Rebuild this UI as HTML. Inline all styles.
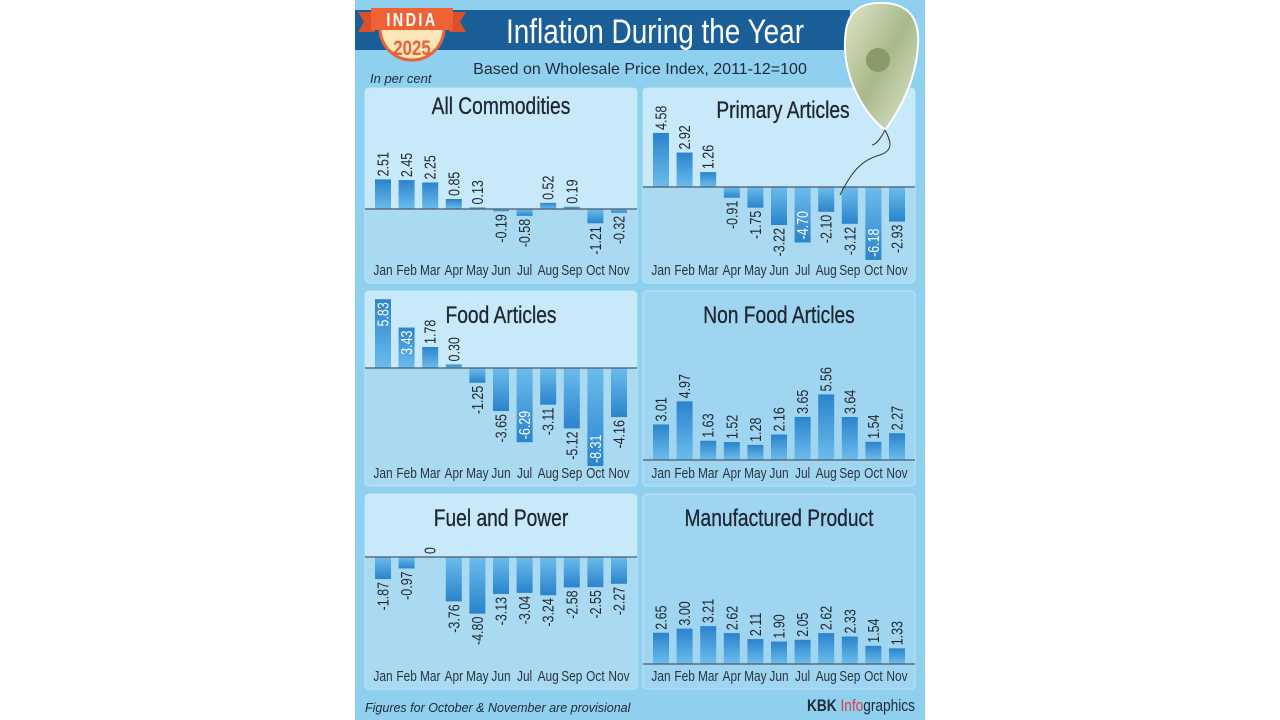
<!DOCTYPE html>
<html><head><meta charset="utf-8"><style>
body{margin:0;background:#fff;width:1280px;height:720px;overflow:hidden}
svg{display:block}
.t{font-family:"Liberation Sans Narrow","Liberation Sans",sans-serif}
</style></head><body>
<svg width="1280" height="720">
<defs>
<linearGradient id="gp" x1="0" y1="0" x2="0" y2="1"><stop offset="0" stop-color="#2a84cc"/><stop offset="1" stop-color="#6cbcec"/></linearGradient>
<linearGradient id="gn" x1="0" y1="0" x2="0" y2="1"><stop offset="0" stop-color="#6cbcec"/><stop offset="1" stop-color="#2a84cc"/></linearGradient>
<linearGradient id="bal" x1="0" y1="0" x2="1" y2="1"><stop offset="0" stop-color="#dfe6c8"/><stop offset="0.5" stop-color="#a9b98a"/><stop offset="1" stop-color="#e2e8d2"/></linearGradient>
</defs>
<rect x="355" y="0" width="570" height="720" fill="#8fd0ef"/>
<rect x="355" y="10" width="495" height="40" fill="#1b5f98"/>
<g>
<polygon points="358,12 375,12 375,32 358,32 364,22" fill="#d9502a"/>
<polygon points="466,12 449,12 449,32 466,32 460,22" fill="#d9502a"/>
<path d="M380,28 A32,32 0 0 0 444,28 Z" fill="#fbe6b8" stroke="#e8623a" stroke-width="3"/>
<rect x="371" y="8" width="82" height="22" fill="#ee6236"/>
<text x="412" y="26" text-anchor="middle" class="t cz" font-size="18" font-weight="bold" fill="#fff" letter-spacing="3">INDIA</text>
<text x="412" y="55" text-anchor="middle" class="t cz" font-size="21" font-weight="bold" fill="#e8623a">2025</text>
</g>
<text x="655" y="43" text-anchor="middle" class="t" font-size="34" fill="#fff" textLength="298" lengthAdjust="spacingAndGlyphs">Inflation During the Year</text>
<text x="640" y="74" text-anchor="middle" font-family="Liberation Sans,sans-serif" font-size="16" fill="#1e2a38">Based on Wholesale Price Index, 2011-12=100</text>
<text x="370" y="83" font-family="Liberation Sans,sans-serif" font-style="italic" font-size="13" fill="#1e2a38">In per cent</text>
<g id="charts"></g>
<g>
<path d="M885,130 C860,110 840,70 846,30 C850,5 870,2 885,3 C905,4 920,15 918,45 C916,80 900,110 885,130 Z" fill="url(#bal)" stroke="#fff" stroke-width="2"/>
<circle cx="878" cy="60" r="12" fill="#8a9b6a"/>
<path d="M885,130 C880,140 875,145 872,145 M885,130 C890,140 895,150 880,155 C860,160 850,175 840,195" fill="none" stroke="#333" stroke-width="1"/>
</g>
<text x="365" y="712" font-family="Liberation Sans,sans-serif" font-style="italic" font-size="12.5" fill="#1e2a38">Figures for October &amp; November are provisional</text>
<text x="915" y="711" text-anchor="end" class="t" font-size="17" fill="#1e2a38" textLength="108" lengthAdjust="spacingAndGlyphs"><tspan font-weight="bold">KBK </tspan><tspan fill="#e23a3a">Info</tspan>graphics</text>
</svg>
<script>
const months=["Jan","Feb","Mar","Apr","May","Jun","Jul","Aug","Sep","Oct","Nov"];
const titles=["All Commodities","Primary Articles","Food Articles","Non Food Articles","Fuel and Power","Manufactured Product"];
const allCommodities=[2.51,2.45,2.25,0.85,0.13,-0.19,-0.58,0.52,0.19,-1.21,-0.32];
const primaryArticles=[4.58,2.92,1.26,-0.91,-1.75,-3.22,-4.70,-2.10,-3.12,-6.18,-2.93];
const foodArticles=[5.83,3.43,1.78,0.30,-1.25,-3.65,-6.29,-3.11,-5.12,-8.31,-4.16];
const nonFoodArticles=[3.01,4.97,1.63,1.52,1.28,2.16,3.65,5.56,3.64,1.54,2.27];
const fuelPower=[-1.87,-0.97,0,-3.76,-4.80,-3.13,-3.04,-3.24,-2.58,-2.55,-2.27];
const manufactured=[2.65,3.00,3.21,2.62,2.11,1.90,2.05,2.62,2.33,1.54,1.33];
const labelsInside=[[],[6,9],[0,1,6,9],[],[],[]];
const series=[allCommodities,primaryArticles,foodArticles,nonFoodArticles,fuelPower,manufactured];
const cfg=[
{x:365,y:88,zero:209,ty:114,light:true},
{x:643,y:88,zero:187,ty:118,light:true},
{x:365,y:291,zero:368,ty:323,light:true},
{x:643,y:291,zero:460,ty:323,light:false},
{x:365,y:494,zero:557,ty:526,light:true},
{x:643,y:494,zero:664,ty:526,light:false}];
const NS="http://www.w3.org/2000/svg";
const PX=11.8;
const g=document.getElementById('charts');
function el(tag,a,p){const e=document.createElementNS(NS,tag);for(const k in a)e.setAttribute(k,a[k]);(p||g).appendChild(e);return e;}
function condense(e,f){const w=e.getComputedTextLength();e.setAttribute('textLength',(w*f).toFixed(1));e.setAttribute('lengthAdjust','spacingAndGlyphs');}
document.querySelectorAll('.cz').forEach(e=>condense(e,0.8));
series.forEach((vals,ci)=>{
 const c=cfg[ci],W=272,H=195;
 const grp=el('g',{});
 
 
 const bg=el('rect',{x:c.x,y:c.y,width:W,height:H,rx:4,fill:c.light?'#aad9f2':'#9fd5f1',stroke:'#bfe4f7','stroke-width':1},grp);
 
 
 if(c.light){const top=el('rect',{x:c.x,y:c.y,width:W,height:c.zero-c.y,rx:4,fill:'#c8e9f9'},grp);
  
  }
 const tt=el('text',{x:c.x+W/2+(ci==1?4:0),y:c.ty,'text-anchor':'middle','class':'t','font-size':24,fill:'#1e2630','stroke':'#1e2630','stroke-width':0.3},grp);
 tt.textContent=titles[ci];
 
 
 condense(tt,0.8);
 const x0=c.x+18,step=23.6,bw=16;
 vals.forEach((v,i)=>{
  const cx=x0+i*step, h=Math.abs(v)*PX;
  const y=v>=0?c.zero-h:c.zero;
  const r=el('rect',{x:cx-bw/2,y:y,width:bw,height:Math.max(h,0),fill:v>=0?'url(#gp)':'url(#gn)'},grp);
  
  
  const inside=labelsInside[ci].includes(i);
  const lab=v===0?'0':v.toFixed(2);
  let ly,anchor;
  if(v>=0){ if(inside){ly=c.zero-h+3;anchor='end';} else {ly=c.zero-h-3;anchor='start';} }
  else { if(inside){ly=c.zero+h-3;anchor='start';} else {ly=c.zero+h+3;anchor='end';} }
  const tx=el('text',{x:0,y:0,transform:`translate(${cx+5.5},${ly}) rotate(-90)`,'text-anchor':anchor,'class':'t','font-size':16,fill:inside?'#fff':'#1e2630'},grp);
  tx.textContent=lab;
  
  
  condense(tx,0.78);
  const ml=el('text',{x:cx,y:c.y+187,'text-anchor':'middle','class':'t','font-size':14.5,fill:'#2a3440'},grp);
  ml.textContent=months[i];
  
  
  condense(ml,0.82);
 });
 const zl=el('line',{x1:c.x,x2:c.x+W,y1:c.zero,y2:c.zero,stroke:'#4a5a68','stroke-width':1.3},grp);
 
 
});
</script>
</body></html>
